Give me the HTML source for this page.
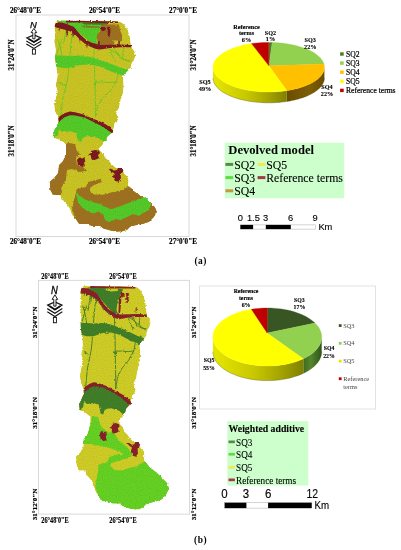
<!DOCTYPE html>
<html lang="en"><head><meta charset="utf-8"><title>Figure</title>
<style>html,body{margin:0;padding:0;background:#fff}body{width:401px;height:550px;overflow:hidden}svg{display:block}</style>
</head><body>
<svg width="401" height="550" viewBox="0 0 401 550">
<rect width="401" height="550" fill="#fff"/>
<defs><filter id="jag" x="-5%" y="-5%" width="110%" height="110%" color-interpolation-filters="sRGB"><feTurbulence type="fractalNoise" baseFrequency="0.45" numOctaves="2" seed="3" result="n"/><feDisplacementMap in="SourceGraphic" in2="n" scale="2.6" xChannelSelector="R" yChannelSelector="G" result="d"/><feTurbulence type="fractalNoise" baseFrequency="0.85" numOctaves="1" seed="11" result="t"/><feColorMatrix in="t" type="matrix" values="0 0 0 0 1  0.22 0 0 0 0.86  0.3 0 0 0 0.82  0 0 0 0 1" result="tm"/><feBlend in="d" in2="tm" mode="multiply" result="b"/><feComposite in="b" in2="d" operator="in"/></filter></defs>
<rect x="16" y="15" width="173" height="221.5" fill="#fff" stroke="#d0d0d0" stroke-width="0.8"/>
<g filter="url(#jag)">
<path d="M56.4,21.3 L60.0,20.5 L70.0,20.8 L80.0,20.5 L90.0,20.8 L100.0,20.6 L110.0,20.8 L118.0,21.2 L120.5,22.0 L123.4,23.7 L126.0,27.0 L127.8,30.3 L129.9,36.8 L131.0,45.6 L132.0,48.0 L134.3,51.0 L135.7,54.5 L134.6,58.5 L132.5,62.0 L131.0,65.0 L131.0,67.5 L128.0,70.0 L125.0,73.0 L123.0,76.0 L123.4,80.0 L123.6,87.0 L122.9,93.6 L120.1,102.3 L119.0,108.0 L117.0,111.0 L116.3,113.5 L118.5,118.0 L117.0,122.0 L114.5,124.0 L114.0,127.0 L113.0,129.5 L112.5,133.0 L110.0,134.5 L107.5,136.5 L106.5,140.0 L104.3,141.5 L102.5,145.0 L98.7,148.7 L100.6,151.2 L103.7,153.7 L105.0,157.5 L108.7,160.6 L111.8,164.3 L115.5,167.4 L119.9,168.7 L123.0,171.2 L124.9,174.3 L128.0,176.8 L128.6,181.1 L128.0,184.9 L131.1,188.0 L135.0,192.0 L143.0,197.0 L149.0,202.0 L155.0,207.0 L157.0,212.0 L154.0,217.0 L149.0,222.0 L143.0,224.0 L135.0,225.5 L130.0,227.0 L127.0,230.0 L122.0,231.5 L116.0,231.8 L110.0,230.5 L103.0,228.5 L100.0,226.0 L92.0,226.0 L85.0,224.0 L79.0,224.0 L75.0,218.0 L72.0,215.0 L70.0,209.0 L65.1,201.8 L61.2,199.5 L60.5,195.2 L52.7,194.8 L50.4,190.2 L49.6,181.7 L54.3,177.8 L58.0,173.0 L59.0,165.0 L63.0,161.0 L66.0,153.0 L66.0,144.0 L60.0,140.0 L54.0,138.0 L53.0,133.0 L55.3,128.5 L58.6,122.0 L57.5,116.5 L54.8,111.0 L54.2,104.5 L55.7,98.0 L57.5,91.4 L55.7,85.0 L57.5,76.0 L56.4,67.4 L54.8,58.7 L55.7,50.0 L54.2,41.2 L55.3,32.5 L54.2,27.0 Z" fill="#c6c724"/>
<path d="M54.8,55.3 L62.0,55.6 L70.0,56.0 L80.0,55.4 L90.0,57.0 L100.0,60.0 L105.0,61.5 L110.0,63.5 L115.0,65.5 L120.0,67.5 L125.0,69.0 L129.0,70.0 L125.0,73.5 L123.0,76.3 L120.0,74.5 L115.0,73.0 L110.0,71.0 L105.0,69.0 L100.0,66.5 L90.0,64.5 L80.0,65.0 L70.0,68.0 L62.0,68.0 L56.0,66.5 Z" fill="#52cd29"/>
<path d="M62.0,22.0 L80.0,22.0 L104.0,23.5 L100.0,30.0 L97.0,36.0 L96.4,41.0 L99.0,46.0 L95.0,45.5 L89.0,41.0 L83.0,36.0 L77.0,31.0 L71.0,27.0 L64.0,24.0 Z" fill="#52cd29"/>
<path d="M101.0,24.6 L119.0,24.6 L120.0,30.0 L122.0,35.0 L122.0,40.0 L120.0,42.0 L120.0,45.5 L97.0,45.5 L98.0,41.0 L96.5,38.0 L97.0,35.0 L100.0,31.0 L101.0,27.0 Z" fill="#9c7321"/>
<path d="M113.5,40.5 L118.5,40.5 L118.5,45.5 L113.5,45.5 Z" fill="#c6c724"/>
<path d="M107.0,27.0 L110.5,27.0 L110.3,33.0 L109.5,36.5 L107.5,36.0 L107.8,31.0 Z" fill="#7a1a20"/>
<path d="M101.0,27.0 L106.0,27.0 L105.5,30.0 L103.0,31.5 L101.0,30.0 Z" fill="#7a1a20"/>
<path d="M118.4,40.5 L119.6,40.5 L119.6,45.5 L118.4,45.5 Z" fill="#7a1a20"/>
<path d="M98.0,41.0 L99.6,41.0 L99.8,46.0 L98.2,46.0 Z" fill="#7a1a20"/>
<path d="M57.5,20.6 L66.0,20.5 L66.0,23.4 L62.0,22.5 L57.5,22.3 Z" fill="#52cd29"/>
<path d="M81.0,25.6 L100.0,26.4 L100.0,27.8 L84.0,27.4 Z" fill="#8a7420"/>
<path d="M59.0,120.0 L64.0,115.0 L72.0,114.0 L84.0,116.0 L96.0,121.0 L108.0,127.0 L112.0,132.0 L110.0,134.5 L107.5,136.5 L106.5,140.0 L104.0,141.5 L98.0,138.0 L90.0,136.0 L83.0,137.0 L81.0,142.0 L78.0,141.0 L76.0,133.0 L70.0,131.0 L62.0,132.0 L59.0,129.0 L58.0,135.0 L54.0,138.0 L53.0,132.0 L56.0,127.0 L57.6,124.0 Z" fill="#52cd29"/>
<path d="M69.0,143.0 L75.0,144.0 L77.0,151.0 L80.0,154.0 L76.0,158.0 L77.0,165.0 L83.0,167.0 L87.0,171.0 L80.0,172.0 L72.0,169.0 L67.0,170.0 L66.0,179.0 L63.6,184.0 L61.2,188.0 L62.0,192.0 L60.5,195.2 L52.7,194.8 L50.4,190.2 L49.6,181.7 L54.3,177.8 L58.0,173.0 L59.0,165.0 L63.0,161.0 L66.0,153.0 L66.0,144.0 Z" fill="#9c7321"/>
<path d="M77.0,189.0 L86.0,187.0 L88.0,182.0 L94.0,180.5 L100.0,179.0 L102.0,182.0 L94.0,185.0 L90.0,188.0 L90.0,191.0 L94.0,194.5 L103.0,194.8 L111.0,192.6 L121.0,190.5 L128.3,186.5 L131.1,188.0 L135.0,192.0 L143.0,197.0 L149.0,202.0 L155.0,207.0 L157.0,212.0 L154.0,217.0 L149.0,222.0 L143.0,224.0 L135.0,225.5 L130.0,227.0 L127.0,230.0 L122.0,231.5 L116.0,231.8 L110.0,230.5 L103.0,228.5 L100.0,226.0 L92.0,226.0 L85.0,224.0 L79.0,224.0 L75.0,218.0 L72.0,210.0 L74.0,200.0 Z" fill="#9c7321"/>
<path d="M76.0,193.0 L80.0,196.0 L86.0,200.0 L93.0,202.0 L100.0,204.0 L103.0,206.0 L111.0,209.0 L121.0,206.0 L131.0,202.0 L141.0,198.0 L146.0,197.0 L151.0,204.0 L149.0,210.0 L143.0,213.0 L139.0,216.0 L133.0,214.0 L127.0,217.0 L121.0,220.0 L115.0,219.0 L109.0,222.0 L105.0,220.0 L103.0,214.5 L99.0,211.5 L93.0,213.4 L87.0,211.0 L82.0,207.2 L78.0,202.6 Z" fill="#52cd29"/>
<path d="M72.8,32.5 L71.5,40.0 L70.6,47.8 L69.5,58.7 L68.4,71.8 L67.3,80.5 L65.1,89.2 L62.9,98.0 L61.8,106.7 L60.7,117.6" fill="none" stroke="#52cd29" stroke-width="0.75"/>
<path d="M93.9,48.7 L94.3,60.0 L94.7,72.0 L94.9,83.8 L95.3,100.0 L95.5,118.0" fill="none" stroke="#52cd29" stroke-width="0.75"/>
<path d="M94.9,82.0 L102.0,82.0 L110.0,82.5 L116.3,81.8 L110.4,90.6 L102.6,98.4 L97.8,106.0 L95.2,117.8" fill="none" stroke="#52cd29" stroke-width="0.75"/>
<path d="M58.0,82.0 L63.0,84.5 L67.0,85.5" fill="none" stroke="#52cd29" stroke-width="0.75"/>
<path d="M109.0,49.0 L116.0,53.0 L123.0,58.0 L130.0,62.0" fill="none" stroke="#52cd29" stroke-width="0.75"/>
<path d="M114.0,48.0 L117.0,53.0 L120.0,58.0 L126.0,60.5 L131.0,61.0" fill="none" stroke="#52cd29" stroke-width="0.75"/>
<path d="M123.5,48.0 L123.0,53.0 L122.5,58.0" fill="none" stroke="#52cd29" stroke-width="0.75"/>
<path d="M110.0,51.0 L113.0,57.0 L116.0,62.0" fill="none" stroke="#52cd29" stroke-width="0.75"/>
<path d="M57.5,39.0 L60.0,46.0 L62.0,56.0" fill="none" stroke="#52cd29" stroke-width="0.75"/>
<path d="M62.0,39.0 L59.0,47.0 L57.0,54.0" fill="none" stroke="#52cd29" stroke-width="0.75"/>
<path d="M116.3,81.8 L118.0,74.0" fill="none" stroke="#52cd29" stroke-width="0.75"/>
<path d="M66.0,29.5 L65.0,36.0 L63.5,44.0" fill="none" stroke="#52cd29" stroke-width="0.75"/>
<path d="M94.2,82.8 L95.8,82.8 L95.8,84.6 L94.2,84.6 L94.2,82.8" fill="none" stroke="#52cd29" stroke-width="0.75"/>
<path d="M55.5,22.8 L57.5,22.3 L62.0,22.6 L66.0,23.7 L73.7,26.8 L77.4,31.2 L81.2,35.6 L86.2,40.0 L92.4,43.0 L100.0,45.0 L110.0,44.8 L120.0,44.6 L131.0,45.0 L131.5,47.3 L120.0,47.3 L110.0,48.0 L100.0,49.5 L96.0,48.9 L90.0,46.4 L84.3,43.2 L80.0,39.5 L76.2,35.8 L73.0,32.7 L68.7,30.8 L63.7,29.5 L58.7,28.2 L54.8,27.0 Z" fill="#7a1a20"/>
<path d="M66.0,20.5 L118.0,21.5 L118.0,23.0 L100.0,23.0 L80.0,22.5 L66.0,22.5 Z" fill="#7a1a20"/>
<path d="M58.3,118.0 L60.0,116.0 L65.0,113.0 L70.0,111.5 L75.0,112.3 L80.0,113.5 L85.0,115.0 L90.0,117.5 L95.0,119.5 L100.0,121.5 L105.0,124.0 L110.0,127.0 L113.4,130.0 L112.5,133.5 L110.0,131.8 L105.0,128.6 L100.0,125.2 L95.0,122.7 L90.0,120.3 L85.0,117.8 L80.0,116.5 L75.0,115.4 L70.0,115.2 L65.0,117.0 L61.0,120.0 L58.8,122.5 Z" fill="#7a1a20"/>
<path d="M58.3,28.0 L59.6,28.2 L59.2,31.5 Z" fill="#7a1a20"/>
<path d="M66.0,29.5 L68.6,30.2 L66.8,37.5 Z" fill="#7a1a20"/>
<path d="M72.0,32.0 L74.6,33.2 L73.0,37.5 Z" fill="#7a1a20"/>
<path d="M79.0,38.5 L80.8,40.0 L80.0,43.0 Z" fill="#7a1a20"/>
<path d="M86.0,44.0 L87.6,45.0 L87.0,48.5 Z" fill="#7a1a20"/>
<path d="M82.0,23.0 L107.0,23.0 L107.0,24.8 L84.0,24.4 Z" fill="#3c7a28"/>
<path d="M88.2,154.5 L91.0,153.0 L91.0,151.0 L95.0,150.0 L99.0,150.8 L100.0,153.0 L98.0,155.0 L99.0,158.0 L96.0,159.5 L92.0,160.0 L91.0,157.5 L91.0,155.5 Z" fill="#7a1a20"/>
<path d="M77.0,160.0 L79.0,157.5 L82.0,158.5 L84.5,157.5 L85.2,161.0 L84.0,163.0 L85.0,166.0 L82.0,167.0 L80.0,165.0 L78.0,165.5 L77.5,162.5 Z" fill="#7a1a20"/>
<path d="M108.7,169.0 L111.0,168.8 L114.0,170.5 L117.0,170.0 L118.0,168.0 L122.0,168.0 L123.7,170.5 L122.0,173.0 L120.5,174.0 L121.0,178.0 L119.0,181.8 L115.0,181.0 L113.0,177.0 L114.0,173.0 L111.0,171.5 Z" fill="#7a1a20"/>
</g>
<g transform="translate(26.0,21.0) scale(1.000,1.000)">
<text x="3.9" y="6.8" style="font-family:'Liberation Sans','DejaVu Sans',sans-serif;font-size:9.4px;font-style:italic" fill="#000" stroke="#000" stroke-width="0.25">N</text>
<g fill="none" stroke="#111" stroke-width="1.1" stroke-linejoin="miter">
<path d="M0.3,23 L7.9,27.4 L15.3,23"/>
<path d="M0.3,20.1 L7.9,24.4 L15.3,20.1"/>
<path d="M0.6,16.9 L7.9,13.9 L15,16.9 L7.9,21.2 Z" fill="#fff"/>
<path d="M2.5,17.8 L7.9,21 L13.3,17.8" stroke-width="1.6"/>
<path d="M6.8,17.8 L6.8,11.6 L5.1,11.6 L7.9,7.4 L10.7,11.6 L9,11.6 L9,17.8 Z" fill="#fff" stroke-width="0.9"/>
<rect x="6.4" y="28.2" width="3" height="4.9" fill="#fff" stroke-width="0.9"/>
</g></g>
<text x="25.5" y="12.8" style="font-family:'Liberation Serif','DejaVu Serif',serif;font-size:7.30px;font-weight:bold" text-anchor="middle" fill="#000" textLength="31.2" lengthAdjust="spacingAndGlyphs" stroke="#000" stroke-width="0.18">26°48'0"E</text>
<text x="25.5" y="243.5" style="font-family:'Liberation Serif','DejaVu Serif',serif;font-size:7.30px;font-weight:bold" text-anchor="middle" fill="#000" textLength="31.2" lengthAdjust="spacingAndGlyphs" stroke="#000" stroke-width="0.18">26°48'0"E</text>
<text x="104.5" y="12.8" style="font-family:'Liberation Serif','DejaVu Serif',serif;font-size:7.30px;font-weight:bold" text-anchor="middle" fill="#000" textLength="31.2" lengthAdjust="spacingAndGlyphs" stroke="#000" stroke-width="0.18">26°54'0"E</text>
<text x="104.5" y="243.5" style="font-family:'Liberation Serif','DejaVu Serif',serif;font-size:7.30px;font-weight:bold" text-anchor="middle" fill="#000" textLength="31.2" lengthAdjust="spacingAndGlyphs" stroke="#000" stroke-width="0.18">26°54'0"E</text>
<text x="183.0" y="12.8" style="font-family:'Liberation Serif','DejaVu Serif',serif;font-size:7.30px;font-weight:bold" text-anchor="middle" fill="#000" textLength="27.8" lengthAdjust="spacingAndGlyphs" stroke="#000" stroke-width="0.18">27°0'0"E</text>
<text x="183.0" y="243.5" style="font-family:'Liberation Serif','DejaVu Serif',serif;font-size:7.30px;font-weight:bold" text-anchor="middle" fill="#000" textLength="27.8" lengthAdjust="spacingAndGlyphs" stroke="#000" stroke-width="0.18">27°0'0"E</text>
<text transform="translate(13.7,55.0) rotate(-90)" x="0" y="0" style="font-family:'Liberation Serif','DejaVu Serif',serif;font-size:7.50px;font-weight:bold" text-anchor="middle" fill="#000" stroke="#000" stroke-width="0.18" textLength="31.0" lengthAdjust="spacingAndGlyphs">31°24'0"N</text>
<text transform="translate(195.6,55.0) rotate(-90)" x="0" y="0" style="font-family:'Liberation Serif','DejaVu Serif',serif;font-size:7.50px;font-weight:bold" text-anchor="middle" fill="#000" stroke="#000" stroke-width="0.18" textLength="31.0" lengthAdjust="spacingAndGlyphs">31°24'0"N</text>
<text transform="translate(13.7,141.0) rotate(-90)" x="0" y="0" style="font-family:'Liberation Serif','DejaVu Serif',serif;font-size:7.50px;font-weight:bold" text-anchor="middle" fill="#000" stroke="#000" stroke-width="0.18" textLength="31.0" lengthAdjust="spacingAndGlyphs">31°18'0"N</text>
<text transform="translate(195.6,141.0) rotate(-90)" x="0" y="0" style="font-family:'Liberation Serif','DejaVu Serif',serif;font-size:7.50px;font-weight:bold" text-anchor="middle" fill="#000" stroke="#000" stroke-width="0.18" textLength="31.0" lengthAdjust="spacingAndGlyphs">31°18'0"N</text>
<text x="200.7" y="264.1" style="font-family:'Liberation Serif','DejaVu Serif',serif;font-size:9.40px;font-weight:bold" text-anchor="middle" fill="#000" letter-spacing="0.5">(a)</text>
<rect x="38.4" y="280.3" width="151" height="233.8" fill="#fff" stroke="#d0d0d0" stroke-width="0.8"/>
<g filter="url(#jag)">
<path d="M81.8,286.8 L84.9,286.0 L93.6,286.3 L102.3,286.0 L111.0,286.3 L119.7,286.1 L128.3,286.3 L135.3,286.7 L137.5,287.6 L140.0,289.4 L142.2,292.9 L143.8,296.4 L145.6,303.2 L146.6,312.6 L147.4,315.1 L149.4,318.3 L150.7,322.0 L149.7,326.2 L147.9,329.9 L146.6,333.1 L146.6,335.7 L144.0,338.4 L141.4,341.5 L139.6,344.7 L140.0,348.9 L140.2,356.4 L139.5,363.3 L137.1,372.5 L136.2,378.6 L134.4,381.7 L133.8,384.4 L135.7,389.2 L134.4,393.4 L132.3,395.5 L131.8,398.7 L130.9,401.3 L130.5,405.0 L128.3,406.6 L126.2,408.7 L125.3,412.4 L123.4,414.0 L121.8,417.7 L118.5,421.6 L120.2,424.3 L122.9,426.9 L124.0,430.9 L127.2,434.2 L129.9,438.1 L133.1,441.4 L136.9,442.8 L139.6,445.4 L141.3,448.7 L144.0,451.4 L144.5,455.9 L144.0,459.9 L146.7,463.2 L150.0,467.4 L157.0,472.7 L162.2,478.0 L167.4,483.3 L169.1,488.6 L166.5,493.9 L162.2,499.2 L157.0,501.3 L150.0,502.9 L145.7,504.5 L143.1,507.6 L138.8,509.2 L133.6,509.6 L128.3,508.2 L122.3,506.1 L119.7,503.4 L112.7,503.4 L106.6,501.3 L101.4,501.3 L98.0,495.0 L95.4,491.8 L93.6,485.4 L89.4,477.8 L86.0,475.4 L85.4,470.8 L78.6,470.4 L76.6,465.5 L75.9,456.5 L80.0,452.4 L83.2,447.3 L84.1,438.9 L87.5,434.6 L90.2,426.2 L90.2,416.7 L84.9,412.4 L79.7,410.3 L78.9,405.0 L80.9,400.3 L83.7,393.4 L82.8,387.6 L80.4,381.7 L79.9,374.9 L81.2,368.0 L82.8,361.0 L81.2,354.2 L82.8,344.7 L81.8,335.6 L80.4,326.4 L81.2,317.2 L79.9,307.9 L80.9,298.7 L79.9,292.9 Z" fill="#cbcf27"/>
<path d="M80.4,322.8 L86.7,323.1 L93.6,323.6 L102.3,322.9 L111.0,324.6 L119.7,327.8 L124.0,329.4 L128.3,331.5 L132.7,333.6 L137.0,335.7 L141.4,337.3 L144.8,338.4 L141.4,342.1 L139.6,345.0 L137.0,343.1 L132.7,341.5 L128.3,339.4 L124.0,337.3 L119.7,334.7 L111.0,332.6 L102.3,333.1 L93.6,336.3 L86.7,336.3 L81.5,334.7 Z" fill="#3f8029"/>
<path d="M86.7,287.6 L102.3,287.6 L123.1,289.2 L119.7,296.1 L117.1,304.9 L116.5,310.2 L118.8,315.5 L115.3,315.0 L110.1,309.8 L104.9,303.9 L99.7,298.0 L94.5,292.9 L88.4,289.7 Z" fill="#3f8029"/>
<path d="M105.8,288.4 L117.9,288.6 L117.9,291.0 L111.0,291.4 L105.8,290.3 Z" fill="#cbcf27"/>
<path d="M84.1,391.3 L88.4,386.0 L95.4,384.9 L105.8,387.0 L116.2,392.3 L126.6,398.7 L130.1,404.0 L128.3,406.6 L126.2,408.7 L125.3,412.4 L123.1,414.0 L117.9,410.3 L111.0,408.2 L104.9,409.3 L103.2,414.5 L100.6,413.5 L98.8,405.0 L93.6,402.9 L86.7,404.0 L84.1,400.8 L83.2,407.1 L79.7,410.3 L78.9,404.0 L81.5,398.7 L82.9,395.5 Z" fill="#3f8029"/>
<path d="M125.7,292.9 L128.8,292.9 L128.6,299.2 L127.9,302.9 L126.2,302.4 L126.4,297.1 Z" fill="#86212a"/>
<path d="M120.5,292.9 L124.9,292.9 L124.4,296.1 L122.3,297.6 L120.5,296.1 Z" fill="#86212a"/>
<path d="M135.6,307.2 L136.7,307.2 L136.7,312.4 L135.6,312.4 Z" fill="#86212a"/>
<path d="M119.2,296.1 L121.4,296.1 L121.0,304.5 L120.1,313.0 L118.4,313.0 L118.8,304.5 Z" fill="#86212a"/>
<path d="M92.0,416.0 L98.0,417.0 L100.0,424.0 L103.0,428.0 L108.0,433.0 L113.0,431.0 L117.0,438.0 L122.0,443.0 L128.0,448.0 L131.0,453.0 L128.0,457.0 L123.0,454.0 L120.0,452.0 L110.0,448.0 L100.0,446.0 L90.0,444.0 L83.0,444.0 L83.0,440.0 L87.0,435.0 L89.0,429.0 L91.0,423.0 Z" fill="#63d423"/>
<path d="M99.7,464.3 L107.5,462.2 L109.2,456.9 L114.5,455.3 L119.7,453.7 L121.4,456.9 L114.5,460.0 L111.0,463.2 L111.0,466.4 L114.5,470.1 L122.3,470.4 L129.2,468.1 L137.9,465.9 L144.2,461.6 L146.7,463.2 L150.0,467.4 L157.0,472.7 L162.2,478.0 L167.4,483.3 L169.1,488.6 L166.5,493.9 L162.2,499.2 L157.0,501.3 L150.0,502.9 L145.7,504.5 L143.1,507.6 L138.8,509.2 L133.6,509.6 L128.3,508.2 L122.3,506.1 L119.7,503.4 L112.7,503.4 L106.6,501.3 L101.4,501.3 L98.0,495.0 L95.4,486.5 L97.1,475.9 Z" fill="#63d423"/>
<path d="M98.0,465.0 L105.0,463.0 L110.0,460.0 L116.0,459.0 L122.0,455.0 L128.0,452.0 L131.5,452.0 L131.0,456.5 L124.0,459.0 L118.0,461.0 L112.0,463.0 L109.0,465.0 L109.0,469.0 L104.0,470.0 L99.0,473.0 Z" fill="#63d423"/>
<path d="M96.1,298.7 L94.9,306.6 L94.1,314.9 L93.2,326.4 L92.2,340.3 L91.3,349.5 L89.4,358.7 L87.5,368.0 L86.5,377.2 L85.6,388.7" fill="none" stroke="#3f8029" stroke-width="0.9"/>
<path d="M114.4,315.8 L114.7,327.8 L115.1,340.5 L115.2,353.0 L115.6,370.1 L115.8,389.2" fill="none" stroke="#3f8029" stroke-width="0.9"/>
<path d="M115.2,351.1 L121.4,351.1 L128.3,351.6 L133.8,350.9 L128.7,360.2 L121.9,368.4 L117.8,376.5 L115.5,388.9" fill="none" stroke="#3f8029" stroke-width="0.9"/>
<path d="M83.2,351.1 L87.5,353.7 L91.0,354.8" fill="none" stroke="#3f8029" stroke-width="0.9"/>
<path d="M127.5,316.2 L133.6,320.4 L139.6,325.7 L145.7,329.9" fill="none" stroke="#3f8029" stroke-width="0.9"/>
<path d="M131.8,315.1 L134.4,320.4 L137.0,325.7 L142.2,328.3 L146.6,328.8" fill="none" stroke="#3f8029" stroke-width="0.9"/>
<path d="M140.1,315.1 L139.6,320.4 L139.2,325.7" fill="none" stroke="#3f8029" stroke-width="0.9"/>
<path d="M128.3,318.3 L130.9,324.6 L133.6,329.9" fill="none" stroke="#3f8029" stroke-width="0.9"/>
<path d="M82.8,305.6 L84.9,313.0 L86.7,323.6" fill="none" stroke="#3f8029" stroke-width="0.9"/>
<path d="M86.7,305.6 L84.1,314.0 L82.3,321.4" fill="none" stroke="#3f8029" stroke-width="0.9"/>
<path d="M133.8,350.9 L135.3,342.6" fill="none" stroke="#3f8029" stroke-width="0.9"/>
<path d="M90.2,295.5 L89.3,302.4 L88.0,310.9" fill="none" stroke="#3f8029" stroke-width="0.9"/>
<path d="M114.6,351.9 L116.0,351.9 L116.0,353.8 L114.6,353.8 L114.6,351.9" fill="none" stroke="#3f8029" stroke-width="0.9"/>
<path d="M81.0,288.4 L82.8,287.9 L86.7,288.2 L90.2,289.4 L96.8,293.2 L100.0,298.3 L103.3,303.3 L107.7,308.5 L113.1,312.3 L119.7,314.5 L128.3,314.2 L137.0,314.0 L146.6,314.5 L147.0,316.9 L137.0,316.9 L128.3,317.6 L119.7,319.2 L116.2,318.6 L111.0,315.6 L106.0,311.7 L102.3,307.3 L99.0,303.0 L96.2,299.4 L92.5,297.0 L88.2,295.5 L83.8,294.1 L80.4,292.9 Z" fill="#86212a"/>
<path d="M90.2,286.0 L135.3,287.1 L135.3,288.6 L119.7,288.6 L102.3,288.1 L90.2,288.1 Z" fill="#86212a"/>
<path d="M83.5,389.2 L84.9,387.0 L89.3,383.9 L93.6,382.3 L98.0,383.1 L102.3,384.4 L106.6,386.0 L111.0,388.6 L115.3,390.7 L119.7,392.9 L124.0,395.5 L128.3,398.7 L131.3,401.9 L130.5,405.6 L128.3,403.8 L124.0,400.4 L119.7,396.8 L115.3,394.1 L111.0,391.6 L106.6,388.9 L102.3,387.6 L98.0,386.4 L93.6,386.2 L89.3,388.1 L85.8,391.3 L83.9,393.9 Z" fill="#86212a"/>
<path d="M83.5,293.9 L84.6,294.1 L84.3,297.6 Z" fill="#3f8029"/>
<path d="M90.2,295.5 L92.4,296.3 L90.8,304.0 Z" fill="#3f8029"/>
<path d="M95.4,298.2 L97.6,299.4 L96.2,304.0 Z" fill="#3f8029"/>
<path d="M101.4,305.0 L103.0,306.6 L102.3,309.8 Z" fill="#3f8029"/>
<path d="M107.5,310.9 L108.9,311.9 L108.4,315.6 Z" fill="#3f8029"/>
<path d="M109.4,427.8 L111.9,426.2 L111.9,424.1 L115.3,423.0 L118.8,423.9 L119.7,426.2 L117.9,428.3 L118.8,431.5 L116.2,433.1 L112.7,433.6 L111.9,430.9 L111.9,428.8 Z" fill="#86212a"/>
<path d="M99.7,433.6 L101.4,430.9 L104.0,432.0 L106.2,430.9 L106.8,434.6 L105.8,436.8 L106.6,439.9 L104.0,441.0 L102.3,438.9 L100.6,439.4 L100.1,436.2 Z" fill="#86212a"/>
<path d="M127.2,443.1 L129.2,442.9 L131.8,444.7 L134.4,444.2 L135.3,442.1 L138.8,442.1 L140.2,444.7 L138.8,447.3 L137.5,448.4 L137.9,452.6 L136.2,456.7 L132.7,455.8 L130.9,451.6 L131.8,447.3 L129.2,445.8 Z" fill="#86212a"/>
</g>
<g transform="translate(47.0,286.8) scale(1.000,1.085)">
<text x="3.9" y="6.8" style="font-family:'Liberation Sans','DejaVu Sans',sans-serif;font-size:9.4px;font-style:italic" fill="#000" stroke="#000" stroke-width="0.25">N</text>
<g fill="none" stroke="#111" stroke-width="1.1" stroke-linejoin="miter">
<path d="M0.3,23 L7.9,27.4 L15.3,23"/>
<path d="M0.3,20.1 L7.9,24.4 L15.3,20.1"/>
<path d="M0.6,16.9 L7.9,13.9 L15,16.9 L7.9,21.2 Z" fill="#fff"/>
<path d="M2.5,17.8 L7.9,21 L13.3,17.8" stroke-width="1.6"/>
<path d="M6.8,17.8 L6.8,11.6 L5.1,11.6 L7.9,7.4 L10.7,11.6 L9,11.6 L9,17.8 Z" fill="#fff" stroke-width="0.9"/>
<rect x="6.4" y="28.2" width="3" height="4.9" fill="#fff" stroke-width="0.9"/>
</g></g>
<text x="55.0" y="279.1" style="font-family:'Liberation Serif','DejaVu Serif',serif;font-size:7.70px;font-weight:bold" text-anchor="middle" fill="#000" textLength="27.3" lengthAdjust="spacingAndGlyphs" stroke="#000" stroke-width="0.18">26°48'0"E</text>
<text x="55.0" y="522.9" style="font-family:'Liberation Serif','DejaVu Serif',serif;font-size:7.70px;font-weight:bold" text-anchor="middle" fill="#000" textLength="27.3" lengthAdjust="spacingAndGlyphs" stroke="#000" stroke-width="0.18">26°48'0"E</text>
<text x="123.0" y="279.1" style="font-family:'Liberation Serif','DejaVu Serif',serif;font-size:7.70px;font-weight:bold" text-anchor="middle" fill="#000" textLength="27.3" lengthAdjust="spacingAndGlyphs" stroke="#000" stroke-width="0.18">26°54'0"E</text>
<text x="123.0" y="522.9" style="font-family:'Liberation Serif','DejaVu Serif',serif;font-size:7.70px;font-weight:bold" text-anchor="middle" fill="#000" textLength="27.3" lengthAdjust="spacingAndGlyphs" stroke="#000" stroke-width="0.18">26°54'0"E</text>
<text transform="translate(36.5,322.5) rotate(-90)" x="0" y="0" style="font-family:'Liberation Serif','DejaVu Serif',serif;font-size:6.40px;font-weight:bold" text-anchor="middle" fill="#000" stroke="#000" stroke-width="0.18" textLength="31.5" lengthAdjust="spacingAndGlyphs">31°24'0"N</text>
<text transform="translate(196.2,322.5) rotate(-90)" x="0" y="0" style="font-family:'Liberation Serif','DejaVu Serif',serif;font-size:6.40px;font-weight:bold" text-anchor="middle" fill="#000" stroke="#000" stroke-width="0.18" textLength="31.5" lengthAdjust="spacingAndGlyphs">31°24'0"N</text>
<text transform="translate(36.5,413.0) rotate(-90)" x="0" y="0" style="font-family:'Liberation Serif','DejaVu Serif',serif;font-size:6.40px;font-weight:bold" text-anchor="middle" fill="#000" stroke="#000" stroke-width="0.18" textLength="31.5" lengthAdjust="spacingAndGlyphs">31°18'0"N</text>
<text transform="translate(196.2,413.0) rotate(-90)" x="0" y="0" style="font-family:'Liberation Serif','DejaVu Serif',serif;font-size:6.40px;font-weight:bold" text-anchor="middle" fill="#000" stroke="#000" stroke-width="0.18" textLength="31.5" lengthAdjust="spacingAndGlyphs">31°18'0"N</text>
<text transform="translate(36.5,504.5) rotate(-90)" x="0" y="0" style="font-family:'Liberation Serif','DejaVu Serif',serif;font-size:6.40px;font-weight:bold" text-anchor="middle" fill="#000" stroke="#000" stroke-width="0.18" textLength="31.5" lengthAdjust="spacingAndGlyphs">31°12'0"N</text>
<text transform="translate(196.2,504.5) rotate(-90)" x="0" y="0" style="font-family:'Liberation Serif','DejaVu Serif',serif;font-size:6.40px;font-weight:bold" text-anchor="middle" fill="#000" stroke="#000" stroke-width="0.18" textLength="31.5" lengthAdjust="spacingAndGlyphs">31°12'0"N</text>
<text x="200.6" y="543.1" style="font-family:'Liberation Serif','DejaVu Serif',serif;font-size:9.40px;font-weight:bold" text-anchor="middle" fill="#000" letter-spacing="0.5">(b)</text>
<defs>
<linearGradient id="sy" x1="0" x2="1" y1="0" y2="0"><stop offset="0" stop-color="#e6e600"/><stop offset="0.45" stop-color="#c8c800"/><stop offset="0.75" stop-color="#a4a400"/><stop offset="1" stop-color="#808000"/></linearGradient>
<linearGradient id="so" x1="0" x2="1" y1="0" y2="0"><stop offset="0" stop-color="#6a4c00"/><stop offset="0.6" stop-color="#7e5e04"/><stop offset="1" stop-color="#6a4c00"/></linearGradient>
<linearGradient id="sg" x1="0" x2="1" y1="0" y2="0"><stop offset="0" stop-color="#3f6a20"/><stop offset="0.4" stop-color="#55862c"/><stop offset="1" stop-color="#2f5518"/></linearGradient>
<linearGradient id="sdg" x1="0" x2="1" y1="0" y2="0"><stop offset="0" stop-color="#2c4a17"/><stop offset="1" stop-color="#1f3a10"/></linearGradient>
</defs>
<path d="M324.4,67.2 L324.4,68.0 L324.3,68.7 L324.2,69.5 L324.0,70.3 L323.7,71.0 L323.4,71.8 L323.1,72.5 L322.7,73.3 L322.2,74.0 L321.7,74.8 L321.2,75.5 L320.6,76.2 L319.9,76.9 L319.2,77.6 L318.5,78.3 L317.7,79.0 L316.9,79.7 L316.0,80.3 L315.0,81.0 L314.0,81.6 L313.0,82.2 L312.0,82.8 L310.8,83.4 L309.7,84.0 L308.5,84.5 L307.3,85.1 L306.0,85.6 L304.7,86.1 L303.4,86.6 L302.0,87.1 L300.6,87.5 L299.2,88.0 L297.7,88.4 L296.3,88.8 L294.7,89.1 L293.2,89.5 L291.6,89.8 L290.1,90.1 L288.5,90.4 L286.8,90.6 L286.8,101.4 L288.5,101.2 L290.1,100.9 L291.6,100.6 L293.2,100.3 L294.7,99.9 L296.3,99.6 L297.7,99.2 L299.2,98.8 L300.6,98.3 L302.0,97.9 L303.4,97.4 L304.7,96.9 L306.0,96.4 L307.3,95.9 L308.5,95.3 L309.7,94.8 L310.8,94.2 L312.0,93.6 L313.0,93.0 L314.0,92.4 L315.0,91.8 L316.0,91.1 L316.9,90.5 L317.7,89.8 L318.5,89.1 L319.2,88.4 L319.9,87.7 L320.6,87.0 L321.2,86.3 L321.7,85.6 L322.2,84.8 L322.7,84.1 L323.1,83.3 L323.4,82.6 L323.7,81.8 L324.0,81.1 L324.2,80.3 L324.3,79.5 L324.4,78.8 L324.4,78.0 Z" fill="url(#so)"/>
<path d="M286.8,101.4 L288.5,101.2 L290.1,100.9 L291.6,100.6 L293.2,100.3 L294.7,99.9 L296.3,99.6 L297.7,99.2 L299.2,98.8 L300.6,98.3 L302.0,97.9 L303.4,97.4 L304.7,96.9 L306.0,96.4 L307.3,95.9 L308.5,95.3 L309.7,94.8 L310.8,94.2 L312.0,93.6 L313.0,93.0 L314.0,92.4 L315.0,91.8 L316.0,91.1 L316.9,90.5 L317.7,89.8 L318.5,89.1 L319.2,88.4 L319.9,87.7 L320.6,87.0 L321.2,86.3 L321.7,85.6 L322.2,84.8 L322.7,84.1 L323.1,83.3 L323.4,82.6 L323.7,81.8 L324.0,81.1 L324.2,80.3 L324.3,79.5 L324.4,78.8 L324.4,78.0" fill="none" stroke="#3c3c00" stroke-opacity="0.45" stroke-width="0.7"/>
<path d="M286.8,90.6 L284.3,91.0 L281.8,91.3 L279.2,91.6 L276.5,91.8 L273.9,91.9 L271.3,92.0 L268.6,92.0 L266.0,92.0 L263.3,91.9 L260.7,91.7 L258.1,91.5 L255.5,91.3 L253.0,91.0 L250.4,90.6 L247.9,90.2 L245.5,89.7 L243.1,89.2 L240.8,88.7 L238.5,88.1 L236.4,87.4 L234.2,86.7 L232.2,85.9 L230.2,85.1 L228.4,84.3 L226.6,83.4 L224.9,82.5 L223.3,81.6 L221.8,80.6 L220.5,79.6 L219.2,78.6 L218.0,77.5 L217.0,76.4 L216.1,75.3 L215.3,74.2 L214.6,73.0 L214.0,71.9 L213.6,70.7 L213.3,69.6 L213.1,68.4 L213.0,67.2 L213.0,78.0 L213.1,79.2 L213.3,80.4 L213.6,81.5 L214.0,82.7 L214.6,83.8 L215.3,85.0 L216.1,86.1 L217.0,87.2 L218.0,88.3 L219.2,89.4 L220.5,90.4 L221.8,91.4 L223.3,92.4 L224.9,93.3 L226.6,94.2 L228.4,95.1 L230.2,95.9 L232.2,96.7 L234.2,97.5 L236.4,98.2 L238.5,98.9 L240.8,99.5 L243.1,100.0 L245.5,100.5 L247.9,101.0 L250.4,101.4 L253.0,101.8 L255.5,102.1 L258.1,102.3 L260.7,102.5 L263.3,102.7 L266.0,102.8 L268.6,102.8 L271.3,102.8 L273.9,102.7 L276.5,102.6 L279.2,102.4 L281.8,102.1 L284.3,101.8 L286.8,101.4 Z" fill="url(#sy)"/>
<path d="M213.0,78.0 L213.1,79.2 L213.3,80.4 L213.6,81.5 L214.0,82.7 L214.6,83.8 L215.3,85.0 L216.1,86.1 L217.0,87.2 L218.0,88.3 L219.2,89.4 L220.5,90.4 L221.8,91.4 L223.3,92.4 L224.9,93.3 L226.6,94.2 L228.4,95.1 L230.2,95.9 L232.2,96.7 L234.2,97.5 L236.4,98.2 L238.5,98.9 L240.8,99.5 L243.1,100.0 L245.5,100.5 L247.9,101.0 L250.4,101.4 L253.0,101.8 L255.5,102.1 L258.1,102.3 L260.7,102.5 L263.3,102.7 L266.0,102.8 L268.6,102.8 L271.3,102.8 L273.9,102.7 L276.5,102.6 L279.2,102.4 L281.8,102.1 L284.3,101.8 L286.8,101.4" fill="none" stroke="#3c3c00" stroke-opacity="0.45" stroke-width="0.7"/>
<path d="M268.9,65.8 L268.7,42.4 L270.4,42.4 L272.2,42.4 Z" fill="#4e7a2a" stroke="#4e7a2a" stroke-width="0.3"/>
<path d="M268.9,65.8 L272.2,42.4 L275.1,42.6 L278.1,42.8 L281.0,43.0 L283.9,43.3 L286.7,43.7 L289.5,44.2 L292.2,44.7 L294.8,45.3 L297.4,45.9 L299.9,46.7 L302.3,47.4 L304.6,48.2 L306.8,49.1 L308.9,50.0 L310.9,51.0 L312.8,52.0 L314.5,53.1 L316.2,54.2 L317.6,55.4 L319.0,56.5 L320.2,57.7 L321.2,59.0 L322.2,60.2 L322.9,61.5 L323.5,62.8 L324.0,64.1 Z" fill="#92d050" stroke="#92d050" stroke-width="0.3"/>
<path d="M268.9,65.8 L324.0,64.1 L324.3,65.4 L324.4,66.7 L324.4,68.0 L324.2,69.3 L323.9,70.6 L323.4,71.9 L322.8,73.1 L322.0,74.4 L321.1,75.6 L320.0,76.8 L318.8,78.0 L317.5,79.2 L316.0,80.3 L314.4,81.4 L312.6,82.4 L310.8,83.4 L308.8,84.4 L306.7,85.3 L304.5,86.2 L302.3,87.0 L299.9,87.8 L297.4,88.5 L294.9,89.1 L292.3,89.7 L289.6,90.2 L286.8,90.6 Z" fill="#ffc000" stroke="#ffc000" stroke-width="0.3"/>
<path d="M268.9,65.8 L286.8,90.6 L284.0,91.0 L281.2,91.4 L278.3,91.6 L275.4,91.8 L272.5,91.9 L269.6,92.0 L266.6,92.0 L263.7,91.9 L260.8,91.7 L257.9,91.5 L255.1,91.2 L252.2,90.9 L249.5,90.5 L246.7,90.0 L244.1,89.4 L241.5,88.8 L239.0,88.2 L236.5,87.4 L234.2,86.7 L231.9,85.8 L229.8,84.9 L227.7,84.0 L225.8,83.0 L224.0,82.0 L222.3,80.9 L220.7,79.8 L219.3,78.7 L218.0,77.5 L216.9,76.3 L215.9,75.1 L215.0,73.8 L214.3,72.6 L213.8,71.3 L213.4,70.0 L213.1,68.7 L213.0,67.4 L213.1,66.1 L213.3,64.8 L213.6,63.5 L214.2,62.2 L214.8,60.9 L215.6,59.7 L216.6,58.4 L217.7,57.2 L219.0,56.0 L220.3,54.9 L221.9,53.8 L223.5,52.7 L225.3,51.7 L227.2,50.7 L229.2,49.7 L231.3,48.8 L233.6,48.0 L235.9,47.2 L238.3,46.4 L240.8,45.7 L243.4,45.1 L246.0,44.5 L248.7,44.0 L251.5,43.6 Z" fill="#ffff00" stroke="#ffff00" stroke-width="0.3"/>
<path d="M268.9,65.8 L251.5,43.6 L254.3,43.2 L257.1,42.9 L260.0,42.7 L262.9,42.5 L265.8,42.4 L268.7,42.4 Z" fill="#c00000" stroke="#c00000" stroke-width="0.3"/>
<text x="246.5" y="28.6" style="font-family:'Liberation Serif','DejaVu Serif',serif;font-size:6.20px;font-weight:bold" text-anchor="middle" fill="#000" stroke="#000" stroke-width="0.12">Reference</text>
<text x="246.5" y="35.2" style="font-family:'Liberation Serif','DejaVu Serif',serif;font-size:6.20px;font-weight:bold" text-anchor="middle" fill="#000" stroke="#000" stroke-width="0.12">terms</text>
<text x="246.5" y="41.8" style="font-family:'Liberation Serif','DejaVu Serif',serif;font-size:6.20px;font-weight:bold" text-anchor="middle" fill="#000" stroke="#000" stroke-width="0.12">6%</text>
<text x="270.5" y="34.9" style="font-family:'Liberation Serif','DejaVu Serif',serif;font-size:6.20px;font-weight:bold" text-anchor="middle" fill="#000" stroke="#000" stroke-width="0.12">SQ2</text>
<text x="270.5" y="41.2" style="font-family:'Liberation Serif','DejaVu Serif',serif;font-size:6.20px;font-weight:bold" text-anchor="middle" fill="#000" stroke="#000" stroke-width="0.12">1%</text>
<text x="310.3" y="42.2" style="font-family:'Liberation Serif','DejaVu Serif',serif;font-size:6.20px;font-weight:bold" text-anchor="middle" fill="#000" stroke="#000" stroke-width="0.12">SQ3</text>
<text x="310.3" y="48.8" style="font-family:'Liberation Serif','DejaVu Serif',serif;font-size:6.20px;font-weight:bold" text-anchor="middle" fill="#000" stroke="#000" stroke-width="0.12">22%</text>
<text x="327.0" y="89.0" style="font-family:'Liberation Serif','DejaVu Serif',serif;font-size:6.20px;font-weight:bold" text-anchor="middle" fill="#000" stroke="#000" stroke-width="0.12">SQ4</text>
<text x="327.0" y="95.6" style="font-family:'Liberation Serif','DejaVu Serif',serif;font-size:6.20px;font-weight:bold" text-anchor="middle" fill="#000" stroke="#000" stroke-width="0.12">22%</text>
<text x="205.0" y="84.0" style="font-family:'Liberation Serif','DejaVu Serif',serif;font-size:6.20px;font-weight:bold" text-anchor="middle" fill="#000" stroke="#000" stroke-width="0.12">SQ5</text>
<text x="205.0" y="90.6" style="font-family:'Liberation Serif','DejaVu Serif',serif;font-size:6.20px;font-weight:bold" text-anchor="middle" fill="#000" stroke="#000" stroke-width="0.12">49%</text>
<rect x="340.1" y="52.3" width="3.6" height="3.4" fill="#4e7a2a"/>
<text x="346.0" y="56.7" style="font-family:'Liberation Serif','DejaVu Serif',serif;font-size:7.60px;font-weight:normal" text-anchor="start" fill="#000" stroke="#000" stroke-width="0.22">SQ2</text>
<rect x="340.1" y="61.4" width="3.6" height="3.4" fill="#92d050"/>
<text x="346.0" y="65.8" style="font-family:'Liberation Serif','DejaVu Serif',serif;font-size:7.60px;font-weight:normal" text-anchor="start" fill="#000" stroke="#000" stroke-width="0.22">SQ3</text>
<rect x="340.1" y="70.5" width="3.6" height="3.4" fill="#ffc000"/>
<text x="346.0" y="74.9" style="font-family:'Liberation Serif','DejaVu Serif',serif;font-size:7.60px;font-weight:normal" text-anchor="start" fill="#000" stroke="#000" stroke-width="0.22">SQ4</text>
<rect x="340.1" y="79.6" width="3.6" height="3.4" fill="#ffff00"/>
<text x="346.0" y="84.0" style="font-family:'Liberation Serif','DejaVu Serif',serif;font-size:7.60px;font-weight:normal" text-anchor="start" fill="#000" stroke="#000" stroke-width="0.22">SQ5</text>
<rect x="340.1" y="88.7" width="3.6" height="3.4" fill="#c00000"/>
<text x="346.0" y="93.1" style="font-family:'Liberation Serif','DejaVu Serif',serif;font-size:7.60px;font-weight:normal" text-anchor="start" fill="#000" stroke="#000" stroke-width="0.22">Reference terms</text>
<rect x="224.8" y="142.7" width="119.4" height="55.6" fill="#ccffcc"/>
<text x="228.3" y="154.0" style="font-family:'Liberation Serif','DejaVu Serif',serif;font-size:12.60px;font-weight:bold" text-anchor="start" fill="#000" >Devolved model</text>
<rect x="225.4" y="162.9" width="7.8" height="3" fill="#588c44"/>
<text x="234.2" y="168.5" style="font-family:'Liberation Serif','DejaVu Serif',serif;font-size:11.75px;font-weight:normal" text-anchor="start" fill="#000" stroke="#000" stroke-width="0.1">SQ2</text>
<rect x="225.4" y="176.1" width="7.8" height="3" fill="#5fdc44"/>
<text x="234.2" y="181.7" style="font-family:'Liberation Serif','DejaVu Serif',serif;font-size:11.75px;font-weight:normal" text-anchor="start" fill="#000" stroke="#000" stroke-width="0.1">SQ3</text>
<rect x="225.4" y="189.3" width="7.8" height="3" fill="#c8963c"/>
<text x="234.2" y="194.9" style="font-family:'Liberation Serif','DejaVu Serif',serif;font-size:11.75px;font-weight:normal" text-anchor="start" fill="#000" stroke="#000" stroke-width="0.1">SQ4</text>
<rect x="257.6" y="162.9" width="7.8" height="3" fill="#f2e850"/>
<text x="266.2" y="168.5" style="font-family:'Liberation Serif','DejaVu Serif',serif;font-size:11.75px;font-weight:normal" text-anchor="start" fill="#000" stroke="#000" stroke-width="0.1">SQ5</text>
<rect x="257.6" y="176.1" width="7.8" height="3" fill="#a03c46"/>
<text x="266.2" y="181.7" style="font-family:'Liberation Serif','DejaVu Serif',serif;font-size:11.75px;font-weight:normal" text-anchor="start" fill="#000" stroke="#000" stroke-width="0.1">Reference terms</text>
<text x="240.3" y="220.8" style="font-family:'Liberation Sans','DejaVu Sans',sans-serif;font-size:9.30px;font-weight:normal" text-anchor="middle" fill="#000" stroke="#000" stroke-width="0.12">0</text>
<text x="253.4" y="220.8" style="font-family:'Liberation Sans','DejaVu Sans',sans-serif;font-size:9.30px;font-weight:normal" text-anchor="middle" fill="#000" stroke="#000" stroke-width="0.12">1.5</text>
<text x="265.6" y="220.8" style="font-family:'Liberation Sans','DejaVu Sans',sans-serif;font-size:9.30px;font-weight:normal" text-anchor="middle" fill="#000" stroke="#000" stroke-width="0.12">3</text>
<text x="290.5" y="220.8" style="font-family:'Liberation Sans','DejaVu Sans',sans-serif;font-size:9.30px;font-weight:normal" text-anchor="middle" fill="#000" stroke="#000" stroke-width="0.12">6</text>
<text x="315.2" y="220.8" style="font-family:'Liberation Sans','DejaVu Sans',sans-serif;font-size:9.30px;font-weight:normal" text-anchor="middle" fill="#000" stroke="#000" stroke-width="0.12">9</text>
<rect x="240.4" y="224.9" width="75.2" height="4.2" fill="#fff" stroke="#aaa" stroke-width="0.5"/>
<rect x="240.4" y="224.9" width="12.7" height="4.2" fill="#000"/>
<rect x="265.8" y="224.9" width="25" height="4.2" fill="#000"/>
<text x="318.4" y="229.7" style="font-family:'Liberation Sans','DejaVu Sans',sans-serif;font-size:9.30px;font-weight:normal" text-anchor="start" fill="#000" stroke="#000" stroke-width="0.12">Km</text>
<rect x="199.6" y="286" width="176" height="123" fill="#fff" stroke="#dcdcdc" stroke-width="0.8"/>
<path d="M321.7,337.0 L321.7,337.6 L321.7,338.2 L321.6,338.8 L321.5,339.5 L321.4,340.1 L321.3,340.7 L321.1,341.3 L320.9,341.9 L320.7,342.5 L320.5,343.1 L320.2,343.7 L320.0,344.3 L319.7,344.9 L319.3,345.5 L319.0,346.1 L318.6,346.6 L318.2,347.2 L317.8,347.8 L317.4,348.3 L316.9,348.9 L316.4,349.5 L315.9,350.0 L315.4,350.6 L314.8,351.1 L314.3,351.6 L313.7,352.2 L313.1,352.7 L312.4,353.2 L311.8,353.7 L311.1,354.2 L310.4,354.7 L309.7,355.2 L309.0,355.6 L308.2,356.1 L307.4,356.6 L306.7,357.0 L305.9,357.5 L305.0,357.9 L304.2,358.3 L303.3,358.7 L303.3,373.3 L304.2,372.9 L305.0,372.5 L305.9,372.1 L306.7,371.6 L307.4,371.2 L308.2,370.7 L309.0,370.2 L309.7,369.8 L310.4,369.3 L311.1,368.8 L311.8,368.3 L312.4,367.8 L313.1,367.3 L313.7,366.8 L314.3,366.2 L314.8,365.7 L315.4,365.2 L315.9,364.6 L316.4,364.1 L316.9,363.5 L317.4,362.9 L317.8,362.4 L318.2,361.8 L318.6,361.2 L319.0,360.7 L319.3,360.1 L319.7,359.5 L320.0,358.9 L320.2,358.3 L320.5,357.7 L320.7,357.1 L320.9,356.5 L321.1,355.9 L321.3,355.3 L321.4,354.7 L321.5,354.1 L321.6,353.4 L321.7,352.8 L321.7,352.2 L321.7,351.6 Z" fill="url(#sg)"/>
<path d="M303.3,373.3 L304.2,372.9 L305.0,372.5 L305.9,372.1 L306.7,371.6 L307.4,371.2 L308.2,370.7 L309.0,370.2 L309.7,369.8 L310.4,369.3 L311.1,368.8 L311.8,368.3 L312.4,367.8 L313.1,367.3 L313.7,366.8 L314.3,366.2 L314.8,365.7 L315.4,365.2 L315.9,364.6 L316.4,364.1 L316.9,363.5 L317.4,362.9 L317.8,362.4 L318.2,361.8 L318.6,361.2 L319.0,360.7 L319.3,360.1 L319.7,359.5 L320.0,358.9 L320.2,358.3 L320.5,357.7 L320.7,357.1 L320.9,356.5 L321.1,355.9 L321.3,355.3 L321.4,354.7 L321.5,354.1 L321.6,353.4 L321.7,352.8 L321.7,352.2 L321.7,351.6" fill="none" stroke="#3c3c00" stroke-opacity="0.45" stroke-width="0.7"/>
<path d="M303.3,358.7 L301.0,359.8 L298.4,360.8 L295.8,361.7 L293.1,362.5 L290.3,363.3 L287.5,363.9 L284.6,364.5 L281.6,365.0 L278.5,365.4 L275.5,365.7 L272.4,365.9 L269.2,366.0 L266.1,366.0 L263.0,365.9 L259.9,365.7 L256.8,365.5 L253.8,365.1 L250.8,364.6 L247.8,364.1 L245.0,363.4 L242.1,362.7 L239.4,361.9 L236.8,361.0 L234.3,360.0 L231.8,359.0 L229.5,357.9 L227.3,356.7 L225.3,355.4 L223.4,354.1 L221.6,352.7 L220.0,351.3 L218.5,349.8 L217.2,348.3 L216.1,346.8 L215.1,345.2 L214.3,343.6 L213.7,342.0 L213.3,340.3 L213.0,338.7 L212.9,337.0 L212.9,351.6 L213.0,353.3 L213.3,354.9 L213.7,356.6 L214.3,358.2 L215.1,359.8 L216.1,361.4 L217.2,362.9 L218.5,364.4 L220.0,365.9 L221.6,367.3 L223.4,368.7 L225.3,370.0 L227.3,371.3 L229.5,372.5 L231.8,373.6 L234.3,374.6 L236.8,375.6 L239.4,376.5 L242.1,377.3 L245.0,378.0 L247.8,378.7 L250.8,379.2 L253.8,379.7 L256.8,380.1 L259.9,380.3 L263.0,380.5 L266.1,380.6 L269.2,380.6 L272.4,380.5 L275.5,380.3 L278.5,380.0 L281.6,379.6 L284.6,379.1 L287.5,378.5 L290.3,377.9 L293.1,377.1 L295.8,376.3 L298.4,375.4 L301.0,374.4 L303.3,373.3 Z" fill="url(#sy)"/>
<path d="M212.9,351.6 L213.0,353.3 L213.3,354.9 L213.7,356.6 L214.3,358.2 L215.1,359.8 L216.1,361.4 L217.2,362.9 L218.5,364.4 L220.0,365.9 L221.6,367.3 L223.4,368.7 L225.3,370.0 L227.3,371.3 L229.5,372.5 L231.8,373.6 L234.3,374.6 L236.8,375.6 L239.4,376.5 L242.1,377.3 L245.0,378.0 L247.8,378.7 L250.8,379.2 L253.8,379.7 L256.8,380.1 L259.9,380.3 L263.0,380.5 L266.1,380.6 L269.2,380.6 L272.4,380.5 L275.5,380.3 L278.5,380.0 L281.6,379.6 L284.6,379.1 L287.5,378.5 L290.3,377.9 L293.1,377.1 L295.8,376.3 L298.4,375.4 L301.0,374.4 L303.3,373.3" fill="none" stroke="#3c3c00" stroke-opacity="0.45" stroke-width="0.7"/>
<path d="M267.1,333.0 L267.3,308.0 L270.2,308.0 L273.1,308.2 L276.0,308.4 L278.8,308.7 L281.7,309.0 L284.4,309.5 L287.2,310.0 L289.8,310.6 L292.5,311.3 L295.0,312.0 L297.5,312.9 L299.8,313.8 L302.1,314.7 L304.3,315.7 L306.4,316.8 L308.3,318.0 L310.2,319.2 L311.9,320.4 L313.5,321.7 L315.0,323.0 Z" fill="#375623" stroke="#375623" stroke-width="0.3"/>
<path d="M267.1,333.0 L315.0,323.0 L316.3,324.4 L317.5,325.8 L318.6,327.3 L319.5,328.8 L320.2,330.3 L320.8,331.8 L321.3,333.4 L321.6,334.9 L321.7,336.5 L321.7,338.1 L321.5,339.6 L321.1,341.2 L320.6,342.7 L320.0,344.3 L319.2,345.8 L318.2,347.2 L317.1,348.7 L315.8,350.1 L314.4,351.5 L312.9,352.8 L311.2,354.1 L309.4,355.3 L307.5,356.5 L305.5,357.7 L303.3,358.7 Z" fill="#92d050" stroke="#92d050" stroke-width="0.3"/>
<path d="M267.1,333.0 L303.3,358.7 L301.2,359.7 L298.9,360.6 L296.5,361.5 L294.1,362.2 L291.5,363.0 L289.0,363.6 L286.3,364.2 L283.6,364.7 L280.9,365.1 L278.1,365.4 L275.3,365.7 L272.4,365.9 L269.6,366.0 L266.7,366.0 L263.9,365.9 L261.0,365.8 L258.2,365.6 L255.4,365.3 L252.6,364.9 L249.9,364.5 L247.2,364.0 L244.6,363.4 L242.0,362.7 L239.5,361.9 L237.1,361.1 L234.8,360.3 L232.6,359.3 L230.4,358.3 L228.4,357.2 L226.4,356.1 L224.6,355.0 L222.9,353.7 L221.3,352.5 L219.8,351.2 L218.5,349.8 L217.3,348.4 L216.3,347.0 L215.3,345.6 L214.6,344.1 L213.9,342.6 L213.5,341.1 L213.1,339.6 L212.9,338.1 L212.9,336.6 L213.0,335.1 L213.3,333.5 L213.7,332.0 L214.3,330.5 L215.0,329.1 L215.8,327.6 L216.8,326.2 L217.9,324.8 L219.2,323.4 L220.6,322.1 L222.1,320.8 L223.8,319.6 L225.6,318.4 L227.5,317.2 L229.5,316.2 L231.6,315.1 L233.8,314.2 L236.1,313.3 L238.4,312.4 L240.9,311.6 L243.4,310.9 L246.0,310.3 L248.7,309.8 L251.4,309.3 Z" fill="#ffff00" stroke="#ffff00" stroke-width="0.3"/>
<path d="M267.1,333.0 L251.4,309.3 L254.5,308.8 L257.7,308.5 L260.9,308.2 L264.1,308.1 L267.3,308.0 Z" fill="#c00000" stroke="#c00000" stroke-width="0.3"/>
<text x="246.0" y="292.6" style="font-family:'Liberation Serif','DejaVu Serif',serif;font-size:5.80px;font-weight:bold" text-anchor="middle" fill="#000" stroke="#000" stroke-width="0.12">Reference</text>
<text x="246.0" y="300.0" style="font-family:'Liberation Serif','DejaVu Serif',serif;font-size:5.80px;font-weight:bold" text-anchor="middle" fill="#000" stroke="#000" stroke-width="0.12">terms</text>
<text x="246.0" y="307.4" style="font-family:'Liberation Serif','DejaVu Serif',serif;font-size:5.80px;font-weight:bold" text-anchor="middle" fill="#000" stroke="#000" stroke-width="0.12">6%</text>
<text x="299.4" y="301.8" style="font-family:'Liberation Serif','DejaVu Serif',serif;font-size:5.80px;font-weight:bold" text-anchor="middle" fill="#000" stroke="#000" stroke-width="0.12">SQ3</text>
<text x="299.4" y="309.4" style="font-family:'Liberation Serif','DejaVu Serif',serif;font-size:5.80px;font-weight:bold" text-anchor="middle" fill="#000" stroke="#000" stroke-width="0.12">17%</text>
<text x="329.0" y="350.2" style="font-family:'Liberation Serif','DejaVu Serif',serif;font-size:5.80px;font-weight:bold" text-anchor="middle" fill="#000" stroke="#000" stroke-width="0.12">SQ4</text>
<text x="329.0" y="358.2" style="font-family:'Liberation Serif','DejaVu Serif',serif;font-size:5.80px;font-weight:bold" text-anchor="middle" fill="#000" stroke="#000" stroke-width="0.12">22%</text>
<text x="209.0" y="362.2" style="font-family:'Liberation Serif','DejaVu Serif',serif;font-size:5.80px;font-weight:bold" text-anchor="middle" fill="#000" stroke="#000" stroke-width="0.12">SQ5</text>
<text x="209.0" y="369.6" style="font-family:'Liberation Serif','DejaVu Serif',serif;font-size:5.80px;font-weight:bold" text-anchor="middle" fill="#000" stroke="#000" stroke-width="0.12">55%</text>
<rect x="338.8" y="324.2" width="2.8" height="2.8" fill="#375623"/>
<text x="343.2" y="327.6" style="font-family:'Liberation Serif','DejaVu Serif',serif;font-size:6.40px;font-weight:normal" text-anchor="start" fill="#444" >SQ3</text>
<rect x="338.8" y="341.9" width="2.8" height="2.8" fill="#92d050"/>
<text x="343.2" y="345.3" style="font-family:'Liberation Serif','DejaVu Serif',serif;font-size:6.40px;font-weight:normal" text-anchor="start" fill="#444" >SQ4</text>
<rect x="338.8" y="359.7" width="2.8" height="2.8" fill="#e6e600"/>
<text x="343.2" y="363.1" style="font-family:'Liberation Serif','DejaVu Serif',serif;font-size:6.40px;font-weight:normal" text-anchor="start" fill="#444" >SQ5</text>
<rect x="338.8" y="377.3" width="2.8" height="2.8" fill="#c00000"/>
<text x="343.2" y="380.7" style="font-family:'Liberation Serif','DejaVu Serif',serif;font-size:6.40px;font-weight:normal" text-anchor="start" fill="#444" >Reference</text>
<text x="343.2" y="388.8" style="font-family:'Liberation Serif','DejaVu Serif',serif;font-size:6.40px;font-weight:normal" text-anchor="start" fill="#444" >terms</text>
<rect x="227.3" y="421.2" width="81" height="64.3" fill="#ccffcc"/>
<text x="228.6" y="431.6" style="font-family:'Liberation Serif','DejaVu Serif',serif;font-size:11.30px;font-weight:bold" text-anchor="start" fill="#000" textLength="75.6" lengthAdjust="spacingAndGlyphs" stroke="#000" stroke-width="0.1">Weighted additive</text>
<rect x="228.5" y="440.5" width="6.4" height="2.7" fill="#588c44"/>
<text x="236.1" y="445.9" style="font-family:'Liberation Serif','DejaVu Serif',serif;font-size:10.60px;font-weight:normal" text-anchor="start" fill="#000" textLength="16.3" lengthAdjust="spacingAndGlyphs" stroke="#000" stroke-width="0.1">SQ3</text>
<rect x="228.5" y="452.9" width="6.4" height="2.7" fill="#5fdc44"/>
<text x="236.1" y="458.3" style="font-family:'Liberation Serif','DejaVu Serif',serif;font-size:10.60px;font-weight:normal" text-anchor="start" fill="#000" textLength="16.3" lengthAdjust="spacingAndGlyphs" stroke="#000" stroke-width="0.1">SQ4</text>
<rect x="228.5" y="465.9" width="6.4" height="2.7" fill="#f2e850"/>
<text x="236.1" y="471.3" style="font-family:'Liberation Serif','DejaVu Serif',serif;font-size:10.60px;font-weight:normal" text-anchor="start" fill="#000" textLength="16.3" lengthAdjust="spacingAndGlyphs" stroke="#000" stroke-width="0.1">SQ5</text>
<rect x="228.5" y="478.5" width="6.4" height="2.7" fill="#a03c46"/>
<text x="236.1" y="483.9" style="font-family:'Liberation Serif','DejaVu Serif',serif;font-size:10.60px;font-weight:normal" text-anchor="start" fill="#000" textLength="60.0" lengthAdjust="spacingAndGlyphs" stroke="#000" stroke-width="0.1">Reference terms</text>
<text x="224.4" y="497.7" style="font-family:'Liberation Sans','DejaVu Sans',sans-serif;font-size:12.00px;font-weight:normal" text-anchor="middle" fill="#000" textLength="6.4" lengthAdjust="spacingAndGlyphs" stroke="#000" stroke-width="0.12">0</text>
<text x="245.9" y="497.7" style="font-family:'Liberation Sans','DejaVu Sans',sans-serif;font-size:12.00px;font-weight:normal" text-anchor="middle" fill="#000" textLength="6.4" lengthAdjust="spacingAndGlyphs" stroke="#000" stroke-width="0.12">3</text>
<text x="268.1" y="497.7" style="font-family:'Liberation Sans','DejaVu Sans',sans-serif;font-size:12.00px;font-weight:normal" text-anchor="middle" fill="#000" textLength="6.4" lengthAdjust="spacingAndGlyphs" stroke="#000" stroke-width="0.12">6</text>
<text x="312.2" y="497.7" style="font-family:'Liberation Sans','DejaVu Sans',sans-serif;font-size:12.00px;font-weight:normal" text-anchor="middle" fill="#000" textLength="11.6" lengthAdjust="spacingAndGlyphs" stroke="#000" stroke-width="0.12">12</text>
<rect x="224.7" y="502.7" width="87" height="5.4" fill="#fff" stroke="#aaa" stroke-width="0.5"/>
<rect x="224.7" y="502.7" width="21.7" height="5.4" fill="#000"/>
<rect x="268.1" y="502.7" width="43.6" height="5.4" fill="#000"/>
<text x="314.6" y="508.6" style="font-family:'Liberation Sans','DejaVu Sans',sans-serif;font-size:11.50px;font-weight:normal" text-anchor="start" fill="#000" textLength="14.6" lengthAdjust="spacingAndGlyphs" stroke="#000" stroke-width="0.12">Km</text>
</svg>
</body></html>
